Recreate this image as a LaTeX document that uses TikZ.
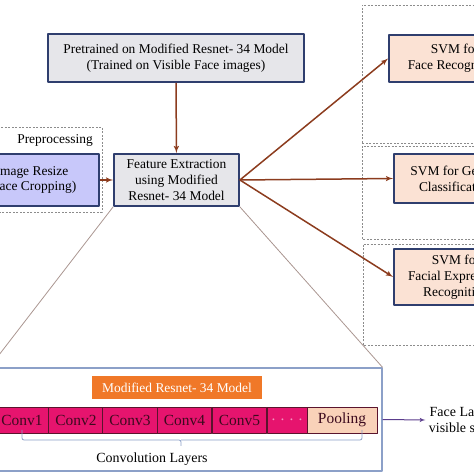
\documentclass[tikz,border=0pt]{standalone}
\usepackage{fontspec}
\setmainfont{Liberation Serif}
\usepackage{tikz}
\usetikzlibrary{shapes,arrows,positioning,calc}

\definecolor{navy}{RGB}{47,62,110}
\definecolor{boxgray}{RGB}{230,230,234}
\definecolor{lavender}{RGB}{200,200,250}
\definecolor{peach}{RGB}{251,226,212}
\definecolor{brownarrow}{RGB}{140,60,30}
\definecolor{dashgray}{RGB}{140,140,140}
\definecolor{bluegray}{RGB}{140,160,200}
\definecolor{resorange}{RGB}{240,120,40}
\definecolor{convpink}{RGB}{230,20,110}
\definecolor{convtext}{RGB}{60,10,30}
\definecolor{convline}{RGB}{90,20,45}
\definecolor{dotpink}{RGB}{240,150,190}
\definecolor{poolfill}{RGB}{249,210,185}
\definecolor{outpurple}{RGB}{90,60,140}
\definecolor{zoomline}{RGB}{170,150,145}

\begin{document}
\begin{tikzpicture}[>=latex',line join=bevel,
  box/.style={draw=navy,line width=1.8bp,align=center,inner sep=0pt,font=\fontsize{13.5}{16}\selectfont},
  grp/.style={draw=dashgray,line width=0.8bp,dash pattern=on 2bp off 1.5bp},
  link/.style={->,draw=brownarrow,line width=1.5bp},
  conv/.style={draw=convline,line width=0.6bp,fill=convpink,minimum height=26bp,inner sep=0pt,text=convtext,font=\fontsize{15.5}{18}\selectfont},
]
\useasboundingbox (0bp,0bp) rectangle (474bp,474bp);
\clip (0bp,0bp) rectangle (474bp,474bp);
%% dashed groups
\draw [grp] (-50bp,262bp) rectangle (102bp,347bp);
\draw [grp] (362bp,331bp) rectangle (540bp,469bp);
\draw [grp] (362bp,235bp) rectangle (540bp,328bp);
\draw [grp] (363bp,129bp) rectangle (540bp,230bp);
\node (prept) at (55bp,333bp) [font=\fontsize{13.5}{16}\selectfont] {Preprocessing};
%% boxes
\node (pre) at (176bp,416bp) [box,fill=boxgray,minimum width=256bp,minimum height=48bp] {Pretrained on Modified Resnet- 34 Model\\(Trained on Visible Face images)};
\node (feat) at (176.5bp,294bp) [box,fill=boxgray,minimum width=125bp,minimum height=52bp] {Feature Extraction\\using Modified\\Resnet- 34 Model};
\node (resize) at (32bp,294bp) [box,fill=lavender,minimum width=134bp,minimum height=52bp] {Image Resize\\(Face Cropping)};
\node (svm1) at (455bp,415.5bp) [box,fill=peach,minimum width=132bp,minimum height=47bp] {SVM for\\Face Recognition};
\node (svm2) at (456bp,295.5bp) [box,fill=peach,minimum width=124bp,minimum height=49bp] {SVM for Gender\\Classification};
\node (svm3) at (456bp,197bp) [box,fill=peach,minimum width=124bp,minimum height=56bp] {SVM for\\Facial Expression\\Recognition};
%% arrows
\draw [link] (pre) -- (feat);
\draw [link] (resize) -- (feat);
\draw [link] (feat.east) -- (svm1.west);
\draw [link] (feat.east) -- (svm2.west);
\draw [link] (feat.east) -- (svm3.west);
%% zoomed model
\node (resnet) at (186bp,54.5bp) [draw=bluegray,line width=1.2bp,fill=white,minimum width=392bp,minimum height=103bp] {};
\draw [zoomline,line width=0.8bp] (feat.south west) -- (resnet.north west);
\draw [zoomline,line width=0.8bp] (feat.south east) -- (resnet.north east);
\node (model) at (177bp,86.5bp) [fill=resorange,text=white,minimum width=170bp,minimum height=23bp,inner sep=0pt,font=\fontsize{13.5}{16}\selectfont] {Modified Resnet- 34 Model};
\foreach \i/\x in {1/22,2/76,3/130,4/184.5,5/239.5}
  \node (c\i) at (\x bp,54bp) [conv,minimum width=54.5bp] {Conv\i};
\node (dots) at (287bp,54bp) [conv,minimum width=40bp,text=dotpink] {. . . .};
\node (pool) at (342bp,54bp) [conv,minimum width=70bp,fill=poolfill] {Pooling};
\draw [bluegray,line width=0.8bp,rounded corners=2bp] (22bp,44bp) |- (181bp,34bp) -- (181bp,28bp);
\draw [bluegray,line width=0.8bp,rounded corners=2bp] (181bp,34bp) -| (362bp,44bp);
\node (convlbl) at (152bp,15bp) [font=\fontsize{14}{16}\selectfont] {Convolution Layers};
%% output
\node (face) at (452bp,54bp) [align=center,font=\fontsize{14}{16}\selectfont] {Face La\\visible s};
\draw [->,outpurple,line width=1bp] (resnet.east) -- (face.west);
%
\end{tikzpicture}
\end{document}
